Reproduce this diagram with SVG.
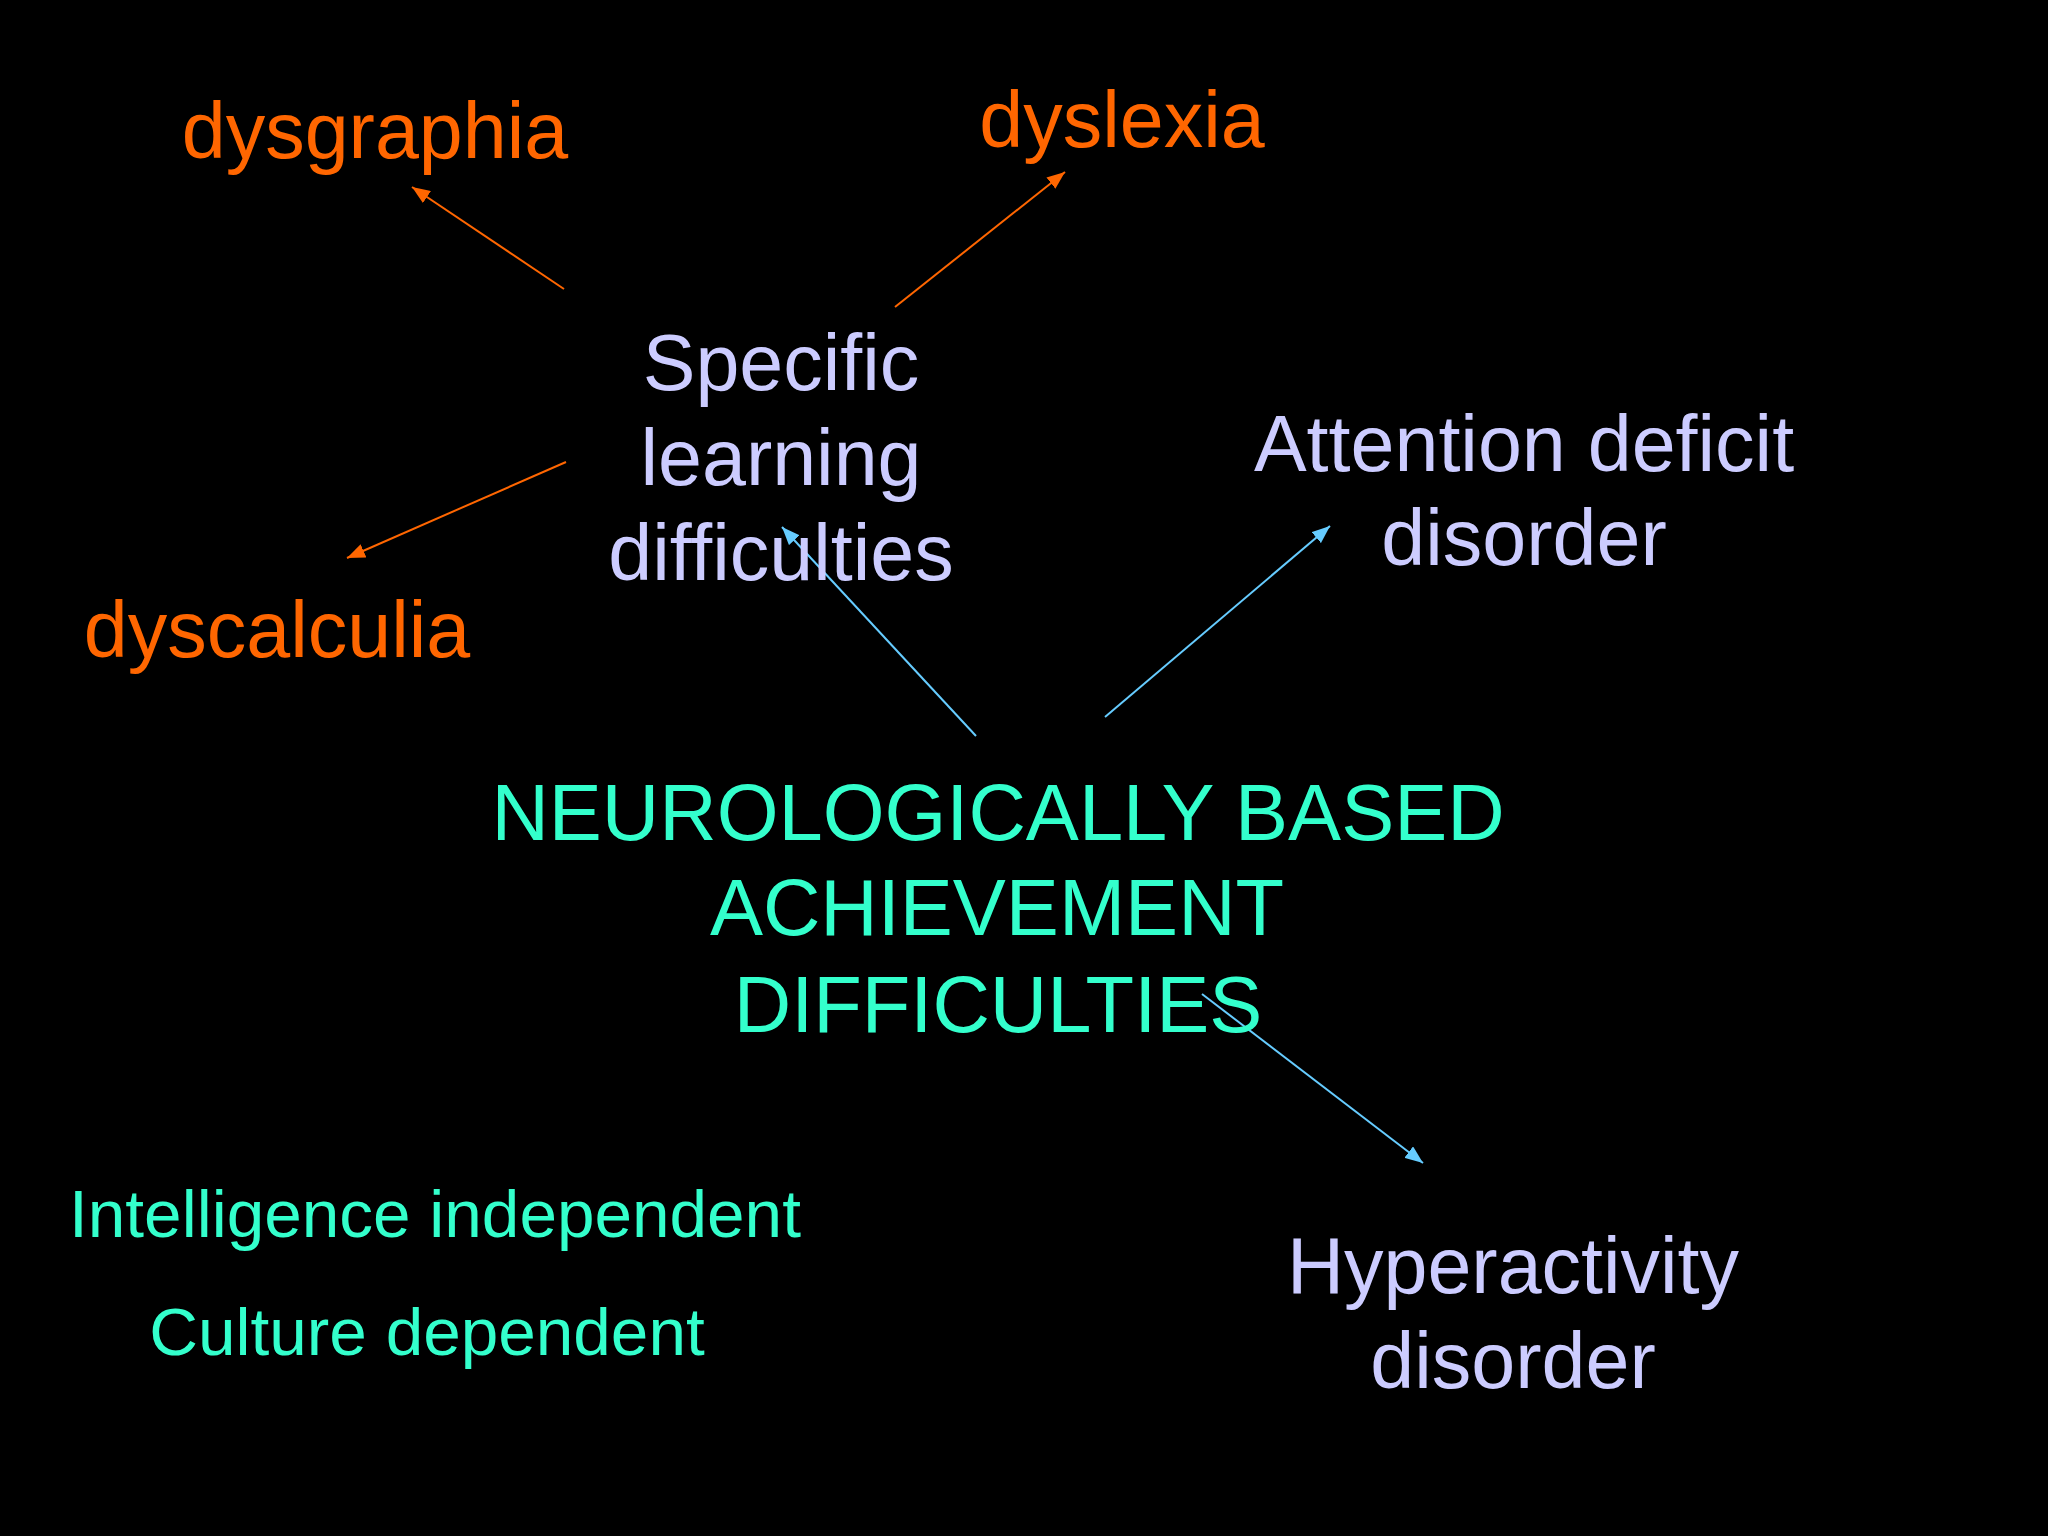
<svg xmlns="http://www.w3.org/2000/svg" width="2048" height="1536" viewBox="0 0 2048 1536">
<style>
text{font-family:"Liberation Sans",Arial,sans-serif;text-anchor:middle}
.or{fill:#FF6600;font-size:79px}
.lv{fill:#CCCCFF;font-size:79px}
.aq{fill:#33FFCC;font-size:79.5px}
.aqs{fill:#33FFCC;font-size:67.5px}
.ao{stroke:#FF6600;stroke-width:2;fill:none}
.ac{stroke:#66CCFF;stroke-width:2;fill:none}
</style>
<defs>
<marker id="hO" viewBox="0 0 10 8" refX="10" refY="4" markerWidth="9" markerHeight="7.2" orient="auto" markerUnits="strokeWidth"><path d="M0,0 L10,4 L0,8 z" fill="#FF6600"/></marker>
<marker id="hC" viewBox="0 0 10 8" refX="10" refY="4" markerWidth="9" markerHeight="7.2" orient="auto" markerUnits="strokeWidth"><path d="M0,0 L10,4 L0,8 z" fill="#66CCFF"/></marker>
</defs>
<rect width="2048" height="1536" fill="#000"/>
<g id="connectors">
<line class="ao" x1="564" y1="289" x2="412" y2="187" marker-end="url(#hO)"/>
<line class="ao" x1="895" y1="307" x2="1065" y2="172" marker-end="url(#hO)"/>
<line class="ao" x1="566" y1="462" x2="347" y2="558" marker-end="url(#hO)"/>
<line class="ac" x1="976" y1="736" x2="782" y2="527" marker-end="url(#hC)"/>
<line class="ac" x1="1105" y1="717" x2="1330" y2="526" marker-end="url(#hC)"/>
<line class="ac" x1="1202" y1="994" x2="1423" y2="1163" marker-end="url(#hC)"/>
</g>
<g id="dysgraphia"><text class="or" x="375" y="158">dysgraphia</text></g>
<g id="dyslexia"><text class="or" x="1122" y="147">dyslexia</text></g>
<g id="dyscalculia"><text class="or" x="277" y="657">dyscalculia</text></g>
<g id="specific"><text class="lv" x="781" y="390">Specific</text><text class="lv" x="781" y="485">learning</text><text class="lv" x="781" y="580">difficulties</text></g>
<g id="attention"><text class="lv" x="1524" y="471">Attention deficit</text><text class="lv" x="1524" y="565">disorder</text></g>
<g id="neuro"><text class="aq" x="998" y="840">NEUROLOGICALLY BASED</text><text class="aq" x="997" y="935">ACHIEVEMENT</text><text class="aq" x="998" y="1032">DIFFICULTIES</text></g>
<g id="hyper"><text class="lv" x="1513" y="1293">Hyperactivity</text><text class="lv" x="1513" y="1388">disorder</text></g>
<g id="notes"><text class="aqs" x="435" y="1237">Intelligence independent</text><text class="aqs" x="427" y="1355">Culture dependent</text></g>
</svg>
